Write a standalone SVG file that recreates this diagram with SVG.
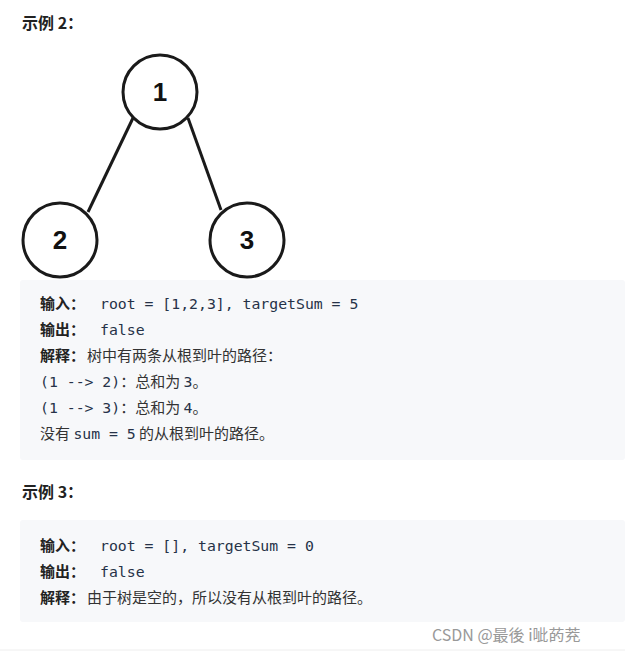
<svg xmlns="http://www.w3.org/2000/svg" width="625" height="654" viewBox="0 0 625 654">
<style>
.h{font:bold 16px "Noto Sans CJK SC","Liberation Sans",sans-serif;fill:#222}
.n{fill:#fff;stroke:#1a1a1a;stroke-width:3}
.nt{font:bold 26px "Liberation Sans",Arial,sans-serif;fill:#111;text-anchor:middle}
.box{fill:#f7f8fa}
.t{font:14.8px "DejaVu Sans Mono","Noto Sans CJK SC",monospace;fill:#263248}
.b{font-weight:bold;fill:#222;font-family:"Noto Sans CJK SC",sans-serif;font-size:15px}
.c{font-family:"Noto Sans CJK SC",sans-serif;fill:#333;font-size:15px}
</style>
<rect width="625" height="654" fill="#fff"/>
<text class="h" x="22" y="29">示例 2：</text>
<g id="edges" stroke="#1a1a1a" stroke-width="3">
<line x1="133" y1="118" x2="88" y2="212"/>
<line x1="188" y1="118" x2="221" y2="210"/>
</g>
<g id="n1"><circle class="n" cx="160" cy="92" r="37"/><text class="nt" x="160" y="101">1</text></g>
<g id="n2"><circle class="n" cx="60" cy="240" r="37"/><text class="nt" x="60" y="249">2</text></g>
<g id="n3"><circle class="n" cx="247" cy="240" r="37"/><text class="nt" x="247" y="249">3</text></g>
<rect class="box" x="20" y="280" width="605" height="180" rx="3"/>
<g xml:space="preserve">
<text class="t" x="40" y="309"><tspan class="b">输入：</tspan><tspan x="100">root = [1,2,3], targetSum = 5</tspan></text>
<text class="t" x="40" y="335"><tspan class="b">输出：</tspan><tspan x="100">false</tspan></text>
<text class="t" x="40" y="361"><tspan class="b">解释：</tspan><tspan class="c" x="87">树中有两条从根到叶的路径：</tspan></text>
<text class="t" x="40" y="387">(1 --&gt; 2)<tspan class="c">：总和为  </tspan>3<tspan class="c">。</tspan></text>
<text class="t" x="40" y="413">(1 --&gt; 3)<tspan class="c">：总和为  </tspan>4<tspan class="c">。</tspan></text>
<text class="t" x="40" y="439"><tspan class="c">没有  </tspan>sum = 5<tspan class="c">  的从根到叶的路径。</tspan></text>
<text class="h" x="22" y="498">示例 3：</text>
<rect class="box" x="20" y="520" width="605" height="102" rx="3"/>
<text class="t" x="40" y="551"><tspan class="b">输入：</tspan><tspan x="100">root = [], targetSum = 0</tspan></text>
<text class="t" x="40" y="577"><tspan class="b">输出：</tspan><tspan x="100">false</tspan></text>
<text class="t" x="40" y="603"><tspan class="b">解释：</tspan><tspan class="c" x="87">由于树是空的，所以没有从根到叶的路径。</tspan></text>
</g>
<line x1="0" y1="650" x2="625" y2="650" stroke="#eee"/>
<text x="432" y="641" style="font:16px 'Noto Sans CJK SC',sans-serif;fill:#999">CSDN @最後 i呲菂茺</text>
</svg>
